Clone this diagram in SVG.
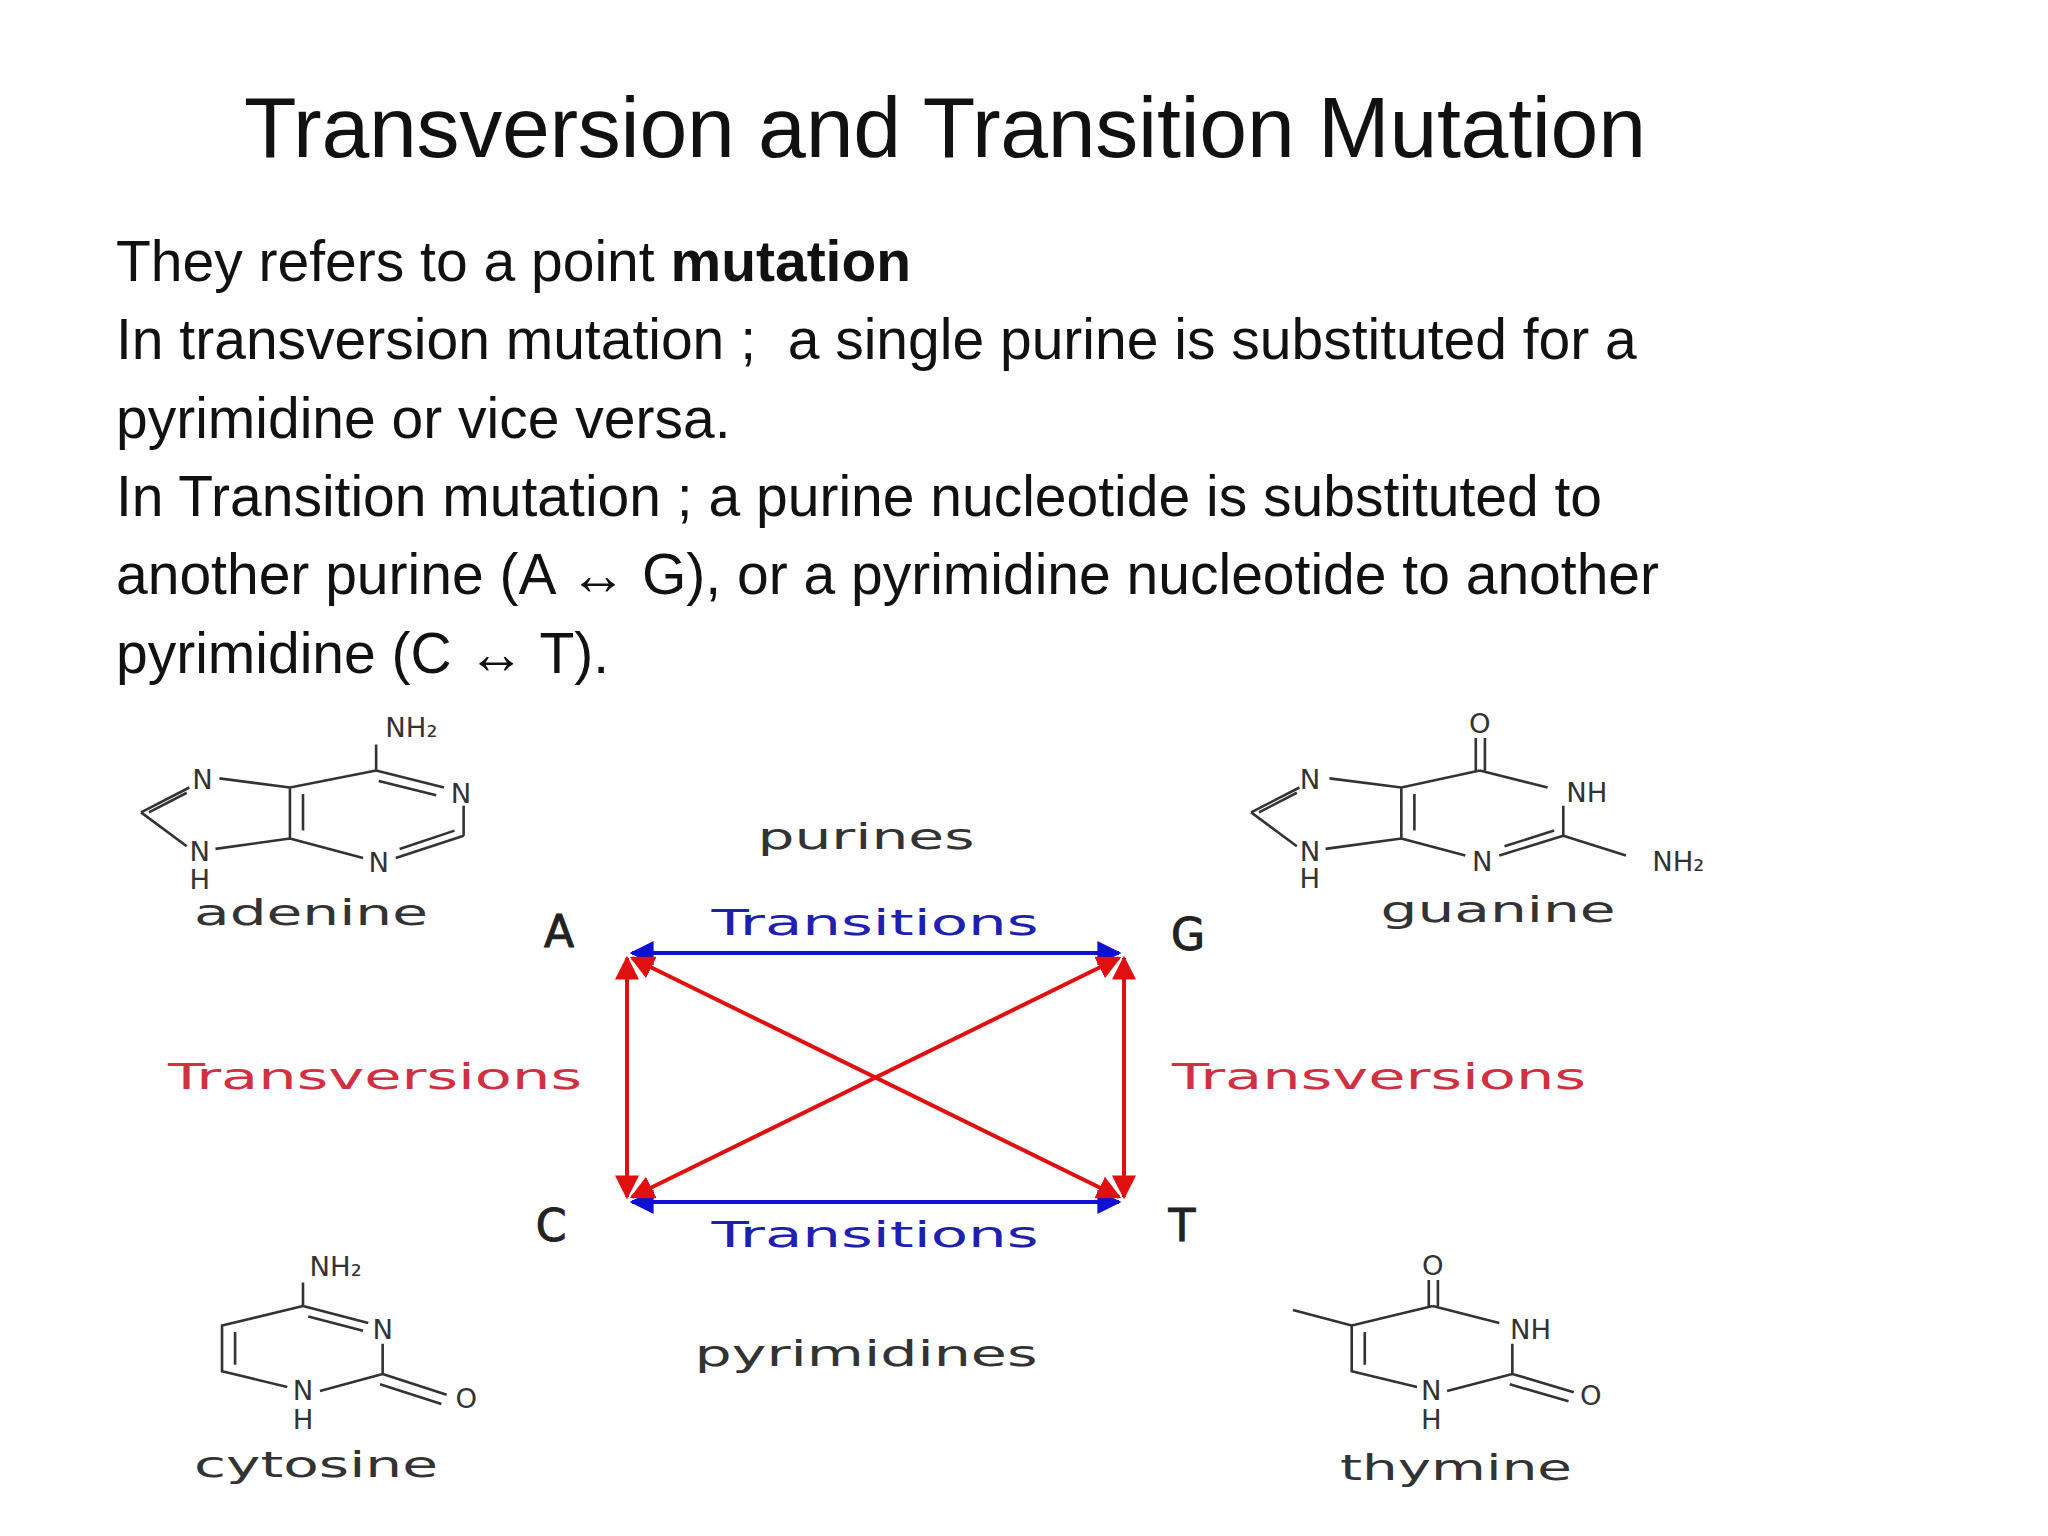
<svg xmlns="http://www.w3.org/2000/svg" width="2048" height="1536" viewBox="0 0 2048 1536">
<style>
.t{font-family:"Liberation Sans",Arial,sans-serif;fill:#111;white-space:pre}
.d{font-family:"DejaVu Sans","Liberation Sans",sans-serif}
.b{stroke:#333;stroke-width:2;fill:none}
.m{font-family:"DejaVu Sans",sans-serif;font-size:21px;fill:#333;text-anchor:middle}
</style>
<defs>
<marker id="ar" viewBox="0 0 10 10" refX="9" refY="5" markerWidth="6" markerHeight="6" orient="auto-start-reverse"><path d="M0,0L10,5L0,10z" fill="#e01010"/></marker>
<marker id="ab" viewBox="0 0 10 10" refX="9" refY="5" markerWidth="6" markerHeight="6" orient="auto-start-reverse"><path d="M0,0L10,5L0,10z" fill="#1010d0"/></marker>
</defs>
<rect width="2048" height="1536" fill="#fff"/>
<text class="t" x="244" y="157" font-size="86" textLength="1402">Transversion and Transition Mutation</text>
<g class="t" font-size="57">
<text x="116" y="281">They refers to a point <tspan font-weight="bold">mutation</tspan></text>
<text x="116" y="359" xml:space="preserve">In transversion mutation ;  a single purine is substituted for a</text>
<text x="116" y="438">pyrimidine or vice versa.</text>
<text x="116" y="516">In Transition mutation ; a purine nucleotide is substituted to</text>
<text x="116" y="594">another purine (A ↔ G), or a pyrimidine nucleotide to another</text>
<text x="116" y="673">pyrimidine (C ↔ T).</text>
</g>
<g id="connectors" stroke-width="4">
<line x1="632" y1="953" x2="1119" y2="953" stroke="#1010d0" marker-start="url(#ab)" marker-end="url(#ab)"/>
<line x1="632" y1="1202" x2="1119" y2="1202" stroke="#1010d0" marker-start="url(#ab)" marker-end="url(#ab)"/>
<line x1="627" y1="958" x2="627" y2="1197" stroke="#e01010" marker-start="url(#ar)" marker-end="url(#ar)"/>
<line x1="1124" y1="958" x2="1124" y2="1197" stroke="#e01010" marker-start="url(#ar)" marker-end="url(#ar)"/>
<line x1="632" y1="958" x2="1119" y2="1197" stroke="#e01010" marker-start="url(#ar)" marker-end="url(#ar)"/>
<line x1="1119" y1="958" x2="632" y2="1197" stroke="#e01010" marker-start="url(#ar)" marker-end="url(#ar)"/>
</g>
<g class="d" font-size="44" fill="#222" stroke="#222" stroke-width="1" text-anchor="middle">
<text id="A" x="559" y="947">A</text>
<text id="G" x="1188" y="950">G</text>
<text id="C" x="551" y="1241">C</text>
<text id="T" x="1182" y="1241">T</text>
</g>
<g class="d" font-size="36" text-anchor="middle">
<text x="875" y="935" fill="#2020b0" textLength="327" lengthAdjust="spacingAndGlyphs">Transitions</text>
<text x="875" y="1247" fill="#2020b0" textLength="327" lengthAdjust="spacingAndGlyphs">Transitions</text>
<text x="375" y="1089" fill="#d03040" textLength="414" lengthAdjust="spacingAndGlyphs">Transversions</text>
<text x="1379" y="1089" fill="#d03040" textLength="414" lengthAdjust="spacingAndGlyphs">Transversions</text>
<text x="866" y="849" fill="#333" textLength="217" lengthAdjust="spacingAndGlyphs">purines</text>
<text x="866" y="1366" fill="#333" textLength="343" lengthAdjust="spacingAndGlyphs">pyrimidines</text>
<text x="311" y="925" fill="#333" textLength="234" lengthAdjust="spacingAndGlyphs">adenine</text>
<text x="1498" y="922" fill="#333" textLength="235" lengthAdjust="spacingAndGlyphs">guanine</text>
<text x="316" y="1477" fill="#333" textLength="244" lengthAdjust="spacingAndGlyphs">cytosine</text>
<text x="1456" y="1480" fill="#333" textLength="232" lengthAdjust="spacingAndGlyphs">thymine</text>
</g>
<g transform="scale(1.306)">
<g id="adenine">
<path class="b" d="M288,590V570M288,590L340,603M290,598L334,609M355,617V640M355,640L303,657M348,636L306,650M278,657L222,642V603L288,590M232,636V608M222,603L168,596M145,603L108,622M143,607L114,622M108,622L143,648M165,650L222,642"/>
<text class="m" x="315" y="564">NH₂</text><text class="m" x="353" y="615">N</text><text class="m" x="290" y="668">N</text><text class="m" x="155" y="604">N</text><text class="m" x="153" y="659">N</text><text class="m" x="153" y="681">H</text>
</g>
<g id="guanine">
<path class="b" d="M1130,590V565M1137,590V565M1133,590L1185,603M1197,617V640M1197,640L1245,655M1197,640L1148,655M1190,636L1152,648M1122,655L1073,642V603L1133,590M1083,636V608M1073,603L1018,596M995,603L958,622M993,607L964,622M958,622L993,648M1015,650L1073,642"/>
<text class="m" x="1133" y="561">O</text><text class="m" x="1215" y="614">NH</text><text class="m" x="1285" y="667">NH₂</text><text class="m" x="1135" y="667">N</text><text class="m" x="1003" y="604">N</text><text class="m" x="1003" y="659">N</text><text class="m" x="1003" y="680">H</text>
</g>
<g id="cytosine">
<path class="b" d="M232,1000V982M232,1000L282,1013M236,1008L278,1019M293,1029V1052M293,1052L342,1068M291,1060L338,1075M293,1052L245,1065M220,1062L170,1050V1015L232,1000M180,1045V1020"/>
<text class="m" x="257" y="977">NH₂</text><text class="m" x="293" y="1025">N</text><text class="m" x="357" y="1078">O</text><text class="m" x="232" y="1072">N</text><text class="m" x="232" y="1094">H</text>
</g>
<g id="thymine">
<path class="b" d="M1094,1000V980M1101,1000V980M1097,1000L1148,1013M1158,1029V1052M1158,1052L1205,1066M1156,1060L1201,1073M1158,1052L1108,1065M1085,1062L1035,1050V1015L1097,1000M1045,1045V1020M1035,1015L990,1003"/>
<text class="m" x="1097" y="976">O</text><text class="m" x="1172" y="1025">NH</text><text class="m" x="1218" y="1076">O</text><text class="m" x="1096" y="1072">N</text><text class="m" x="1096" y="1094">H</text>
</g>
</g>
</svg>
